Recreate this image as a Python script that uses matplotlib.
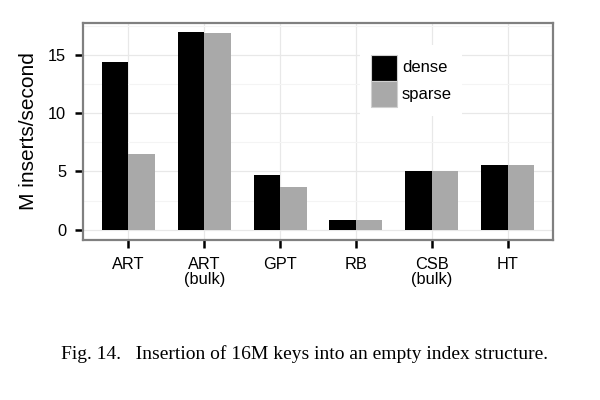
import numpy as np
import matplotlib.pyplot as plt
from matplotlib.patches import Rectangle

# Throughput values (M inserts/second)
structures = ['ART', 'ART\n(bulk)', 'GPT', 'RB', 'CSB\n(bulk)', 'HT']
dense = [14.4, 17.0, 4.7, 0.8, 5.0, 5.6]
sparse = [6.5, 16.9, 3.7, 0.8, 5.0, 5.6]
series_names = ['dense', 'sparse']
y_ticks = [0, 5, 10, 15]

col_dense = 'black'
col_sparse = '#a9a9a9'
sans = 'Liberation Sans'

fig = plt.figure(figsize=(6, 4), dpi=100)
ax = fig.add_axes([0.138, 0.40, 0.784, 0.543])

x = np.arange(len(structures))
bar_w = 0.35
ax.bar(x - bar_w / 2, dense, width=bar_w, color=col_dense, linewidth=0, zorder=2)
ax.bar(x + bar_w / 2, sparse, width=bar_w, color=col_sparse, linewidth=0, zorder=2)

ax.set_xlim(-0.6, len(structures) - 0.4)
ax.set_ylim(-0.9, 17.8)
ax.set_xticks(x)
ax.set_xticklabels(structures, fontsize=11.8, family=sans, linespacing=1.0)
ax.set_yticks(y_ticks)
ax.set_yticklabels([str(t) for t in y_ticks], fontsize=11.8, family=sans)
ax.set_yticks([2.5, 7.5, 12.5, 17.5], minor=True)
ax.tick_params(axis='both', which='major', length=6, width=1.8, color='black', pad=6)
ax.tick_params(axis='y', which='minor', length=0)

# ggplot-like grid
ax.set_axisbelow(True)
ax.grid(True, which='major', color='#e8e8e8', linewidth=0.9)
ax.grid(True, which='minor', axis='y', color='#f4f4f4', linewidth=0.8)
for s in ax.spines.values():
    s.set_color('#808080')
    s.set_linewidth(1.6)

ax.set_ylabel('M inserts/second', fontsize=15, family=sans, labelpad=7)

# legend drawn by hand inside the panel (white box, touching keys)
tr = ax.transAxes
ax.add_patch(Rectangle((0.589, 0.571), 0.217, 0.327, transform=tr,
                       facecolor='white', edgecolor='none', zorder=3))
key_w, key_h = 0.0553, 0.1197
key_x = 0.6127
key_y = [0.732, 0.612]
text_y = [0.792, 0.672]
for name, col, ky, ty in zip(series_names, [col_dense, col_sparse], key_y, text_y):
    ax.add_patch(Rectangle((key_x, ky), key_w, key_h, transform=tr, facecolor=col,
                           edgecolor='#d0d0d0', linewidth=0.8, zorder=4))
    ax.text(0.6786, ty, name, transform=tr, ha='left', va='center',
            fontsize=12, family=sans, zorder=4)

fig.text(0.508, 0.115, 'Fig. 14.   Insertion of 16M keys into an empty index structure.',
         ha='center', va='center', fontsize=14, family='Liberation Serif')

plt.savefig('out.png', dpi=100)
